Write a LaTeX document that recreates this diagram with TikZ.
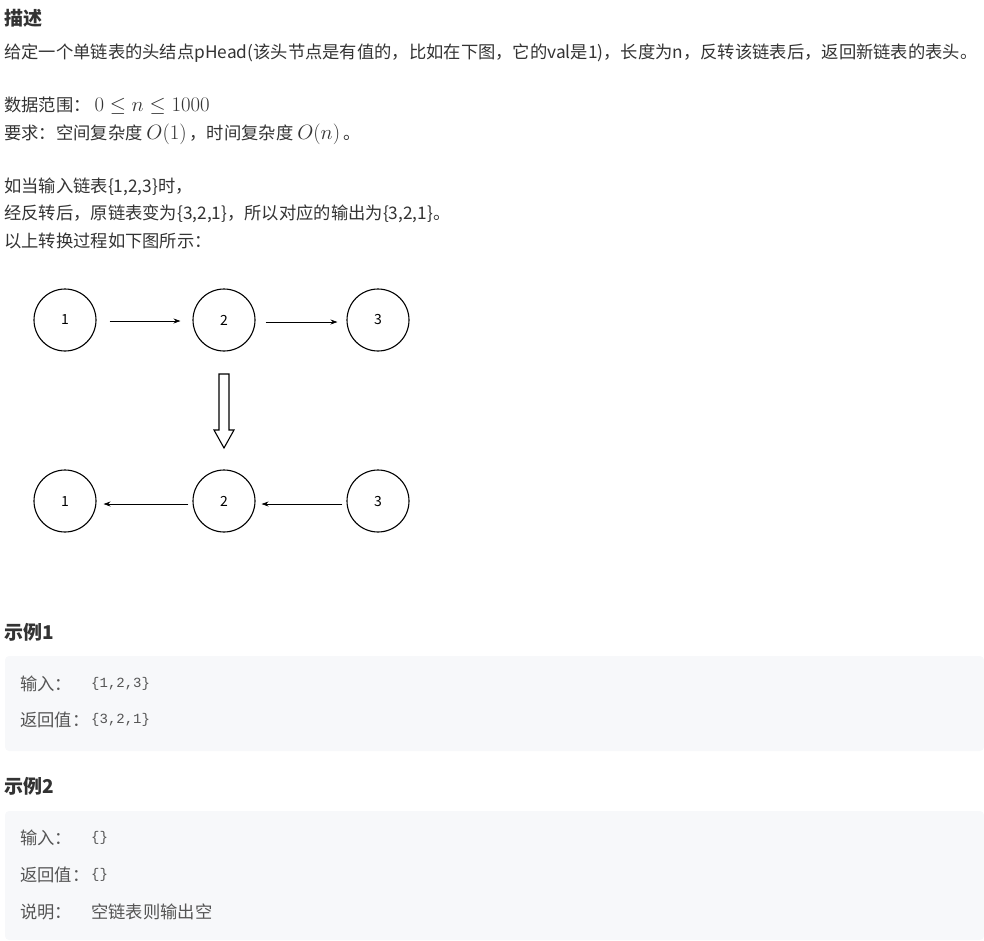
\documentclass[tikz,border=0pt]{standalone}
\usepackage{fontspec}
\setmainfont{Noto Sans CJK SC}
\newfontfamily\monof{Liberation Mono}
\usetikzlibrary{arrows.meta,calc}
\definecolor{txt}{HTML}{333333}
\definecolor{gtxt}{HTML}{555555}
\definecolor{boxbg}{HTML}{F7F8FA}
\tikzset{
  body/.style={anchor=west,inner sep=0pt,text=txt,font=\fontsize{17.3}{20}\selectfont},
  head/.style={anchor=west,inner sep=0pt,text=txt,font=\fontsize{19}{22}\selectfont\bfseries},
  lab/.style={anchor=west,inner sep=0pt,text=gtxt,font=\fontsize{17.3}{20}\selectfont},
  val/.style={anchor=west,inner sep=0pt,text=gtxt,font=\fontsize{14}{16}\monof},
  circ/.style={circle,draw,line width=1.1pt,minimum size=62pt,inner sep=0pt,font=\fontsize{14}{16}\selectfont},
  conn/.style={-{Stealth[length=7pt,width=5pt]},line width=0.8pt},
  sample/.style={fill=boxbg,rounded corners=4pt,draw=none}
}
\begin{document}
\begin{tikzpicture}[x=1pt,y=-1pt]
\useasboundingbox (0,0) rectangle (984,940);
\node[head] (h1) at (4,18) {描述};
\node[body] (t1) at (4,53) {给定一个单链表的头结点pHead(该头节点是有值的，比如在下图，它的val是1)，长度为n，反转该链表后，返回新链表的表头。};
\node[body] (t2) at (4,106) {数据范围：\ {\fontsize{21}{22}\selectfont$0\le n\le 1000$}};
\node[body] (t3) at (4,134) {要求：空间复杂度 {\fontsize{21}{22}\selectfont$O(1)$}\,，时间复杂度 {\fontsize{21}{22}\selectfont$O(n)$}\,。};
\node[body] (t4) at (4,187) {如当输入链表\{1,2,3\}时，};
\node[body] (t5) at (4,214) {经反转后，原链表变为\{3,2,1\}，所以对应的输出为\{3,2,1\}。};
\node[body] (t6) at (4,241) {以上转换过程如下图所示：};

\node[circ] (a1) at (65,320) {1};
\node[circ] (a2) at (224,320) {2};
\node[circ] (a3) at (378,320) {3};
\node[circ] (b1) at (65,501) {1};
\node[circ] (b2) at (224,501) {2};
\node[circ] (b3) at (378,501) {3};
\draw[conn] ([xshift=13pt,yshift=-1pt]a1.east) -- ([xshift=-12pt,yshift=-1pt]a2.west);
\draw[conn] ([xshift=10pt,yshift=-2pt]a2.east) -- ([xshift=-9pt,yshift=-2pt]a3.west);
\draw[conn] ([xshift=-4pt,yshift=-3pt]b2.west) -- ([xshift=7pt,yshift=-3pt]b1.east);
\draw[conn] ([xshift=-4pt,yshift=-3pt]b3.west) -- ([xshift=6pt,yshift=-3pt]b2.east);
\coordinate (dtop) at (224,374);
\draw[line width=1.1pt,line join=miter] ($(dtop)+(-5,0)$) -- ++(0,56) -- ++(-5,0) -- (224,448) -- (234,430) -- ++(-5,0) -- ++(0,-56) -- cycle;

\node[head] (h2) at (4,632) {示例1};
\fill[sample] (5,656) rectangle (984,751);
\node[lab] (l11) at (20,684) {输入：};
\node[val] (v11) at (91,684) {\{1,2,3\}};
\node[lab] (l12) at (20,720) {返回值：};
\node[val] (v12) at (91,720) {\{3,2,1\}};

\node[head] (h3) at (4,786) {示例2};
\fill[sample] (5,811) rectangle (984,940);
\node[lab] (l21) at (20,838) {输入：};
\node[val] (v21) at (91,838) {\{\}};
\node[lab] (l22) at (20,875) {返回值：};
\node[val] (v22) at (91,875) {\{\}};
\node[lab] (l23) at (20,912) {说明：};
\node[lab] (v23) at (91,912) {空链表则输出空};
\end{tikzpicture}
\end{document}
